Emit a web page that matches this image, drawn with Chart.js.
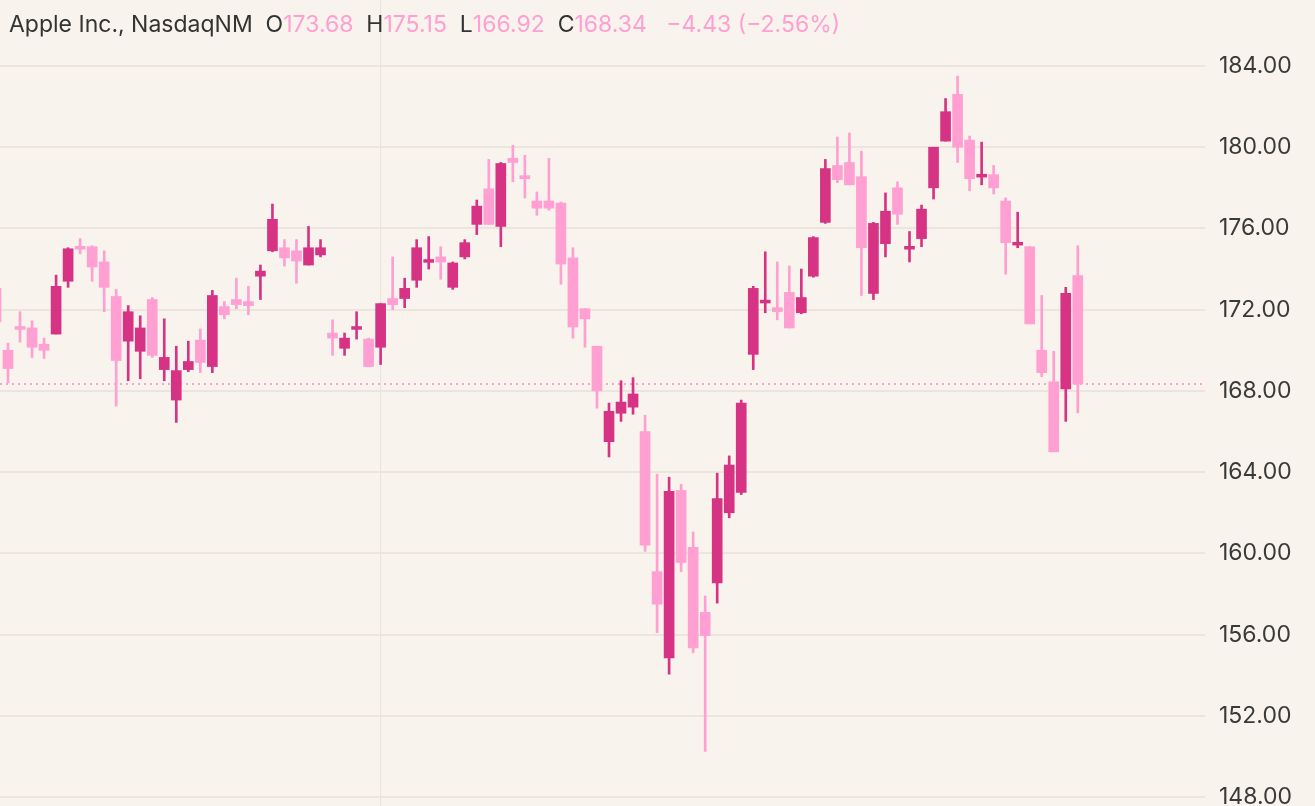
<!DOCTYPE html>
<html><head><meta charset="utf-8">
<script src="https://cdn.jsdelivr.net/npm/chart.js@4.4.1/dist/chart.umd.min.js"></script>
<style>html,body{margin:0;padding:0;background:#f8f3ec;}#wrap{width:1315px;height:806px;position:relative;}</style>
</head><body><div id="wrap"><canvas id="c"></canvas></div>
<script>
const opens  = [173.05,170.0,171.15,171.1,170.3,170.8,173.4,175.1,175.1,174.35,172.65,170.45,169.95,172.5,169.05,167.55,169.05,170.5,169.2,172.15,172.5,172.4,173.65,174.9,175.05,174.9,174.2,174.7,170.85,170.1,171.05,170.55,170.15,172.55,172.55,173.45,174.35,174.6,173.1,174.6,176.2,177.95,176.1,179.45,178.6,177.35,177.35,177.25,174.55,172.05,170.2,165.5,166.9,167.2,166.0,159.1,154.85,163.1,160.3,157.1,158.55,162.0,163.0,169.8,172.35,172.1,172.85,171.85,173.65,176.3,179.1,179.25,178.55,172.8,175.25,178.0,175.0,175.5,178.0,180.3,182.6,180.35,178.55,178.65,177.35,175.2,175.1,170.0,168.45,168.1,173.68];
const highs  = [173.3,170.35,171.9,171.45,170.6,173.7,175.05,175.5,175.15,174.9,173.0,172.2,171.7,172.6,171.55,170.2,170.45,171.05,172.95,172.4,173.55,173.15,174.2,177.2,175.45,175.45,176.1,175.45,171.5,170.85,171.9,170.6,172.3,174.6,173.55,175.45,175.6,175.1,174.35,175.45,177.4,179.4,179.25,180.1,179.6,177.8,179.45,177.3,175.05,172.05,170.2,167.4,168.5,168.65,166.8,163.9,163.75,163.4,161.05,157.9,163.95,164.8,167.55,173.15,174.85,174.35,174.15,174.0,175.6,179.4,180.5,180.7,179.8,176.3,177.75,178.3,175.85,177.15,180.0,182.4,183.5,180.55,180.25,179.1,177.5,176.8,175.1,172.7,169.95,173.1,175.15];
const lows   = [171.0,168.4,170.4,169.65,169.6,170.8,173.1,174.75,173.4,171.9,167.25,168.5,168.6,169.65,168.5,166.45,168.95,168.9,168.9,171.55,172.05,171.75,172.5,174.85,174.15,173.3,174.2,174.6,169.75,169.75,170.55,169.2,169.3,172.0,172.1,173.1,174.0,173.5,173.0,174.5,175.7,176.2,175.1,178.3,177.5,176.65,176.9,173.25,170.6,170.15,167.15,164.75,166.5,166.85,160.1,156.1,154.05,159.1,155.1,150.25,157.55,161.75,162.9,169.05,171.85,171.5,171.1,171.8,173.6,176.25,178.25,178.15,172.7,172.5,174.6,176.2,174.35,175.1,177.45,180.3,179.25,177.85,178.15,177.7,173.75,175.05,171.3,168.7,165.0,166.5,166.92];
const closes = [171.4,169.1,171.05,170.15,170.0,173.15,175.0,175.0,174.1,173.1,169.5,171.9,171.1,169.75,169.65,169.0,169.45,169.4,172.7,171.75,172.25,172.2,173.9,176.45,174.55,174.4,175.05,175.05,170.6,170.6,171.15,169.2,172.3,172.25,173.05,175.05,174.45,174.35,174.3,175.3,177.1,176.2,179.2,179.25,178.45,177.0,177.0,174.25,171.15,171.55,168.0,167.0,167.45,167.85,160.4,157.5,163.05,159.55,155.35,155.95,162.7,164.35,167.4,173.05,172.45,171.9,171.1,172.6,175.55,178.95,178.4,178.15,175.05,176.25,176.85,176.7,175.1,176.95,180.0,181.75,180.0,178.45,178.65,178.0,175.3,175.3,171.3,168.9,165.0,172.8,168.34];
const yTicks = [148,152,156,160,164,168,172,176,180,184,188];
const lastClose = 168.34;
const vGridAt = 31;
const titleParts = [["Apple Inc., NasdaqNM  ","#333"],["O","#333"],["173.68  ","#ff9fd2"],["H","#333"],["175.15  ","#ff9fd2"],["L","#333"],["166.92  ","#ff9fd2"],["C","#333"],["168.34   ","#ff9fd2"],["\u22124.43 (\u22122.56%)","#ff9fd2"]];

const UP='#d63384', DOWN='#ff9fd2';
const xs = opens.map((_,i)=>i-1);
const col = opens.map((o,i)=> closes[i]>=o ? UP : DOWN);
const bodies = opens.map((o,i)=>{let a=Math.min(o,closes[i]),b=Math.max(o,closes[i]); if(b-a<0.14){const m=(a+b)/2;a=m-0.07;b=m+0.07;} return {x:xs[i],y:[a,b]};});
const wicks = opens.map((o,i)=>({x:xs[i],y:[lows[i],highs[i]]}));
const xmin=-0.666, xmax=xmin+1205/12.02;

const bgPlugin={id:'bg',beforeDraw(ch){const c=ch.ctx;c.save();c.fillStyle='#f8f3ec';c.fillRect(0,0,ch.width,ch.height);
  const x=ch.scales.x.getPixelForValue(vGridAt);c.strokeStyle='#e8e2da';c.lineWidth=1;c.beginPath();c.moveTo(x,0);c.lineTo(x,ch.height);c.stroke();c.restore();}};
const titlePlugin={id:'t',afterDraw(ch){const c=ch.ctx;c.save();c.font='23px Inter, "Noto Sans", sans-serif';let x=9;for(const [t,cl] of titleParts){c.fillStyle=cl;c.fillText(t,x,32);x+=c.measureText(t).width;}c.restore();}};

new Chart(document.getElementById('c'),{
  data:{datasets:[
    {type:'line',data:[{x:xmin,y:lastClose},{x:xmax,y:lastClose}],borderColor:'#ff9fd2',borderWidth:2,borderDash:[2,4],pointRadius:0,order:3},
    {type:'bar',data:wicks,backgroundColor:col,barThickness:2,grouped:false,order:2},
    {type:'bar',data:bodies,backgroundColor:col,barThickness:10,grouped:false,order:1}
  ]},
  options:{responsive:true,maintainAspectRatio:false,animation:false,
    layout:{padding:0},
    plugins:{legend:{display:false},tooltip:{enabled:false}},
    scales:{
      x:{type:'linear',min:xmin,max:xmax,offset:false,display:false},
      y:{position:'right',min:147.56,max:187.25,
         afterBuildTicks(ax){ax.ticks=yTicks.map(v=>({value:v}));},
         afterFit(ax){ax.width=110;ax.paddingTop=0;ax.paddingBottom=0;},
         ticks:{color:'#3a3a3a',font:{size:23,family:'Inter, "Noto Sans", sans-serif'},padding:14,callback:v=>v.toFixed(2)},
         grid:{color:'#ebe5de',lineWidth:2,drawTicks:false},border:{display:false}}
    }
  },
  plugins:[bgPlugin,titlePlugin]
});
</script></body></html>
